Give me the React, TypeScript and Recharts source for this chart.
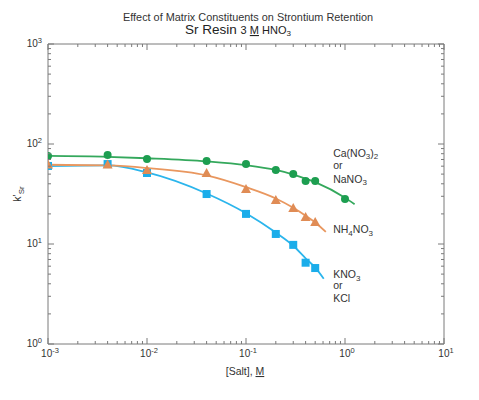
import React from 'react';
import { ComposedChart, XAxis, YAxis, Line, Scatter } from 'recharts';

// ---- data ----
const saltX = [0.001, 0.004, 0.01, 0.04, 0.1, 0.2, 0.3, 0.4, 0.5];
const caPoints = [75.9, 77.6, 70.8, 67.6, 63.1, 55.0, 50.1, 42.7, 42.7];
const caExtraX = [1.0];
const caExtraY = [28.2];
const nh4Points = [62.5, 62.5, 55.0, 51.3, 35.5, 27.5, 22.9, 18.6, 16.6];
const kPoints = [60.3, 63.0, 51.3, 31.6, 20.0, 12.6, 9.8, 6.5, 5.75];

const caCurveX = [0.001, 0.004, 0.01, 0.04, 0.1, 0.2, 0.3, 0.5, 1.0, 1.25];
const caCurveY = [76, 74.5, 72, 67, 61.5, 55, 49.5, 41.5, 29, 25];
const nh4CurveX = [0.001, 0.004, 0.01, 0.04, 0.1, 0.2, 0.3, 0.4, 0.5, 0.64];
const nh4CurveY = [62, 61, 57.5, 48.5, 37, 28.5, 23, 19.2, 16.4, 13.2];
const kCurveX = [0.001, 0.004, 0.01, 0.04, 0.1, 0.2, 0.3, 0.4, 0.5, 0.61];
const kCurveY = [60, 61, 52, 32, 20.3, 13, 9.6, 7.2, 5.8, 4.5];

const xDecades = [0.001, 0.01, 0.1, 1, 10];
const yDecades = [1, 10, 100, 1000];
const minorMult = [2, 3, 4, 5, 6, 7, 8, 9];

type Seg = { t: string; sub?: boolean };
const annotations: { x: number; y: number; segs: Seg[] }[] = [
  { x: 0.76, y: 74.6, segs: [{ t: 'Ca(NO' }, { t: '3', sub: true }, { t: ')' }, { t: '2', sub: true }] },
  { x: 0.76, y: 56.2, segs: [{ t: 'or' }] },
  { x: 0.76, y: 41.0, segs: [{ t: 'NaNO' }, { t: '3', sub: true }] },
  { x: 0.76, y: 12.8, segs: [{ t: 'NH' }, { t: '4', sub: true }, { t: 'NO' }, { t: '3', sub: true }] },
  { x: 0.76, y: 4.54, segs: [{ t: 'KNO' }, { t: '3', sub: true }] },
  { x: 0.76, y: 3.52, segs: [{ t: 'or' }] },
  { x: 0.76, y: 2.65, segs: [{ t: 'KCl' }] },
];

// ---- derived tables ----
const pts = (xs: number[], ys: number[]) => xs.map((x, i) => ({ x, y: ys[i] }));
const caData = [...pts(saltX, caPoints), ...pts(caExtraX, caExtraY)];
const nh4Data = pts(saltX, nh4Points);
const kData = pts(saltX, kPoints);
const caCurve = pts(caCurveX, caCurveY);
const nh4Curve = pts(nh4CurveX, nh4CurveY);
const kCurve = pts(kCurveX, kCurveY);

const withMinors = (decs: number[]) => {
  const out: number[] = [];
  decs.forEach((d, i) => {
    out.push(d);
    if (i < decs.length - 1) minorMult.forEach((m) => out.push(+(d * m).toPrecision(6)));
  });
  return out;
};
const xTicks = withMinors(xDecades);
const yTicks = withMinors(yDecades);

const FONT = '"Liberation Sans", Arial, Helvetica, sans-serif';
const AXIS = '#7a7a7a';
const TXT = '#333';
const GREEN = '#1d9e50';
const GREEN_LINE = '#34a85c';
const ORANGE = '#e08c55';
const ORANGE_LINE = '#e9975f';
const BLUE = '#1badea';
const BLUE_LINE = '#2bb5ec';

const isDecade = (v: number) => Math.abs(Math.log10(v) - Math.round(Math.log10(v))) < 1e-6;
const expOf = (v: number) => Math.round(Math.log10(v));

const Pow = ({ x, y, v, anchor }: { x: number; y: number; v: number; anchor: string }) => (
  <text x={x} y={y} fontSize={10} fontFamily={FONT} fill={TXT} textAnchor={anchor as any}>
    10
    <tspan fontSize={7.5} dy={-4}>{expOf(v)}</tspan>
  </text>
);

const BottomTick = (p: any) => {
  const { x, y, payload } = p;
  const major = isDecade(payload.value);
  const len = major ? 6 : 3;
  return (
    <g>
      <line x1={x} y1={y} x2={x} y2={y - len} stroke={AXIS} strokeWidth={1} />
      {major && <Pow x={x + 2} y={y + 13} v={payload.value} anchor="middle" />}
    </g>
  );
};
const TopTick = (p: any) => {
  const { x, y, payload } = p;
  const len = isDecade(payload.value) ? 6 : 3;
  return <line x1={x} y1={y} x2={x} y2={y + len} stroke={AXIS} strokeWidth={1} />;
};
const LeftTick = (p: any) => {
  const { x, y, payload } = p;
  const major = isDecade(payload.value);
  const len = major ? 6 : 3;
  return (
    <g>
      <line x1={x} y1={y} x2={x + len} y2={y} stroke={AXIS} strokeWidth={1} />
      {major && <Pow x={x - 6} y={y + 3} v={payload.value} anchor="end" />}
    </g>
  );
};
const RightTick = (p: any) => {
  const { x, y, payload } = p;
  const len = isDecade(payload.value) ? 6 : 3;
  return <line x1={x} y1={y} x2={x - len} y2={y} stroke={AXIS} strokeWidth={1} />;
};

const CircleShape = (p: any) => <circle cx={p.cx} cy={p.cy} r={4} fill={GREEN} />;
const TriShape = (p: any) => (
  <polygon
    points={`${p.cx},${p.cy - 5} ${p.cx - 5},${p.cy + 4} ${p.cx + 5},${p.cy + 4}`}
    fill={ORANGE}
  />
);
const SquareShape = (p: any) => <rect x={p.cx - 4} y={p.cy - 4} width={8} height={8} fill={BLUE} />;

const AnnotShape = (p: any) => {
  const segs: Seg[] = (p.payload && p.payload.segs) || [];
  const children: any[] = [];
  let down = false;
  segs.forEach((s, i) => {
    if (s.sub && !down) {
      children.push(<tspan key={i} dy={2.5} fontSize={8}>{s.t}</tspan>);
      down = true;
    } else if (!s.sub && down) {
      children.push(<tspan key={i} dy={-2.5} fontSize={10.5}>{s.t}</tspan>);
      down = false;
    } else {
      children.push(<tspan key={i} fontSize={s.sub ? 8 : 10.5}>{s.t}</tspan>);
    }
  });
  return (
    <text x={p.cx} y={p.cy} fontFamily={FONT} fill={TXT} fontSize={10.5}>
      {children}
    </text>
  );
};

export default function App() {
  const W = 479;
  const H = 400;
  const common = {
    type: 'number' as const,
    scale: 'log' as const,
    allowDataOverflow: true,
    interval: 0 as const,
    tickSize: 0,
    tickMargin: 0,
    tickLine: false,
    axisLine: { stroke: AXIS, strokeWidth: 1 },
  };
  return (
    <div style={{ position: 'absolute', left: 0, top: 0, width: W, height: H, background: '#fff' }}>
      <ComposedChart width={W} height={H} margin={{ top: 43, right: 34, bottom: 36, left: 18 }}>
        <XAxis xAxisId="b" dataKey="x" domain={[0.001, 10]} ticks={xTicks} height={20} tick={<BottomTick />} {...common} />
        <XAxis xAxisId="t" orientation="top" dataKey="x" domain={[0.001, 10]} ticks={xTicks} height={1} tick={<TopTick />} {...common} />
        <YAxis yAxisId="l" dataKey="y" domain={[1, 1000]} ticks={yTicks} width={30} tick={<LeftTick />} {...common} />
        <YAxis yAxisId="r" orientation="right" dataKey="y" domain={[1, 1000]} ticks={yTicks} width={1} tick={<RightTick />} {...common} />
        <Line xAxisId="b" yAxisId="l" data={kCurve} dataKey="y" type="monotone" stroke={BLUE_LINE} strokeWidth={1.8} dot={false} isAnimationActive={false} />
        <Line xAxisId="b" yAxisId="l" data={nh4Curve} dataKey="y" type="monotone" stroke={ORANGE_LINE} strokeWidth={1.8} dot={false} isAnimationActive={false} />
        <Line xAxisId="b" yAxisId="l" data={caCurve} dataKey="y" type="monotone" stroke={GREEN_LINE} strokeWidth={1.8} dot={false} isAnimationActive={false} />
        <Scatter xAxisId="b" yAxisId="l" data={kData} dataKey="y" shape={<SquareShape />} isAnimationActive={false} />
        <Scatter xAxisId="b" yAxisId="l" data={nh4Data} dataKey="y" shape={<TriShape />} isAnimationActive={false} />
        <Scatter xAxisId="b" yAxisId="l" data={caData} dataKey="y" shape={<CircleShape />} isAnimationActive={false} />
        <Scatter xAxisId="b" yAxisId="l" data={annotations} dataKey="y" shape={<AnnotShape />} isAnimationActive={false} />
      </ComposedChart>
      <svg
        width={W}
        height={H}
        style={{ position: 'absolute', left: 0, top: 0, pointerEvents: 'none' }}
        fontFamily={FONT}
      >
        <text x={248} y={21} fontSize={10.5} fill={TXT} textAnchor="middle" textLength={250} lengthAdjust="spacingAndGlyphs">
          Effect of Matrix Constituents on Strontium Retention
        </text>
        <text x={238} y={34} fill="#222" textAnchor="middle">
          <tspan fontSize={13.5}>Sr Resin </tspan>
          <tspan fontSize={11}>3 </tspan>
          <tspan fontSize={11} textDecoration="underline">M</tspan>
          <tspan fontSize={11}> HNO</tspan>
          <tspan fontSize={8} dy={2}>3</tspan>
        </text>
        <text x={245} y={375} fontSize={10.5} fill={TXT} textAnchor="middle">
          [Salt],{' '}
          <tspan textDecoration="underline">M</tspan>
        </text>
        <text transform="translate(21,194) rotate(-90)" fontSize={10.5} fill={TXT} textAnchor="middle">
          k'
          <tspan fontSize={8} dy={3}>Sr</tspan>
        </text>
      </svg>
    </div>
  );
}
